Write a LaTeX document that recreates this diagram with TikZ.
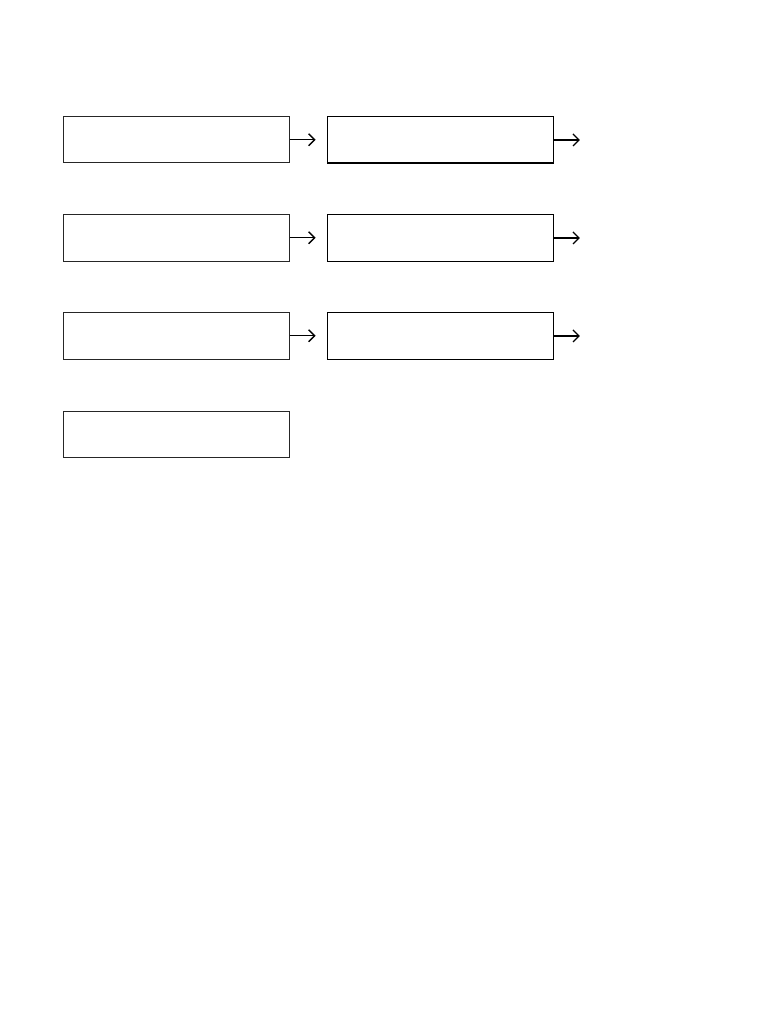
\documentclass[tikz,border=0pt]{standalone}
\usetikzlibrary{arrows.meta}
\begin{document}
\begin{tikzpicture}[x=1pt,y=-1pt,
  boxa/.style={draw=black!85,line width=1pt,minimum width=226pt,minimum height=46.5pt,inner sep=0pt,anchor=north west},
  boxb/.style={boxa,draw=black,line width=1.4pt},
  conn/.style={draw=black,line width=1.3pt,-{Straight Barb[length=6pt,width=12pt,line width=1.3pt]}}]
\useasboundingbox[fill=white] (0,0) rectangle (768,1024);
\foreach \r/\y in {1/116,2/214,3/312,4/410.5}{
  \node[boxa] (L\r) at (62.5,\y) {};
}
\foreach \r/\y in {1/116,2/214,3/312}{
  \node[boxb] (R\r) at (326.5,\y) {};
  \coordinate (M\r) at ([xshift=26pt]L\r.east);
  \coordinate (E\r) at ([xshift=26pt]R\r.east);
  \draw[conn] (L\r.east) -- (M\r);
  \draw[conn] (R\r.east) -- (E\r);
}
\end{tikzpicture}
\end{document}
